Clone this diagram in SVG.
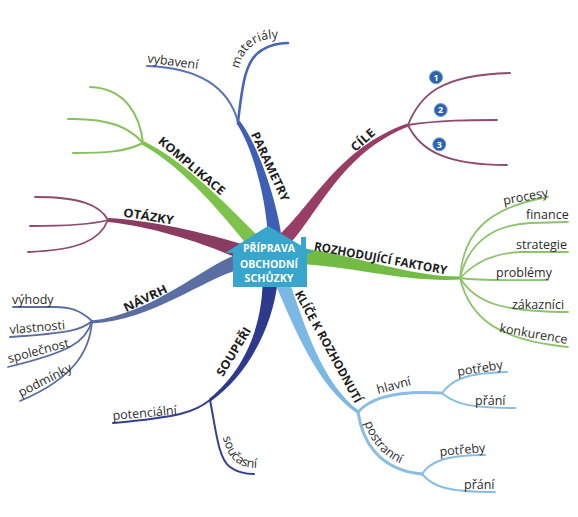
<svg xmlns="http://www.w3.org/2000/svg" width="578" height="517" viewBox="0 0 578 517">
<style>
.lbl{font-family:"Open Sans","Liberation Sans",sans-serif;font-size:12.5px;fill:#2b2b2b}
.hd{font-family:"Open Sans","Liberation Sans",sans-serif;font-size:12px;font-weight:700;fill:#1e1e1e;text-anchor:middle}
.ctr{font-family:"Open Sans","Liberation Sans",sans-serif;font-size:11px;font-weight:700;fill:#ffffff;text-anchor:middle}
.num{font-family:"Open Sans","Liberation Sans",sans-serif;font-size:9px;font-weight:700;fill:#ffffff;text-anchor:middle}
.br{fill:none;stroke-linecap:round}
.numc{fill:#2d62ac;stroke:#6f9bd6;stroke-width:1}
</style>
<defs>
  <path id="tp-materialy" d="M239,70 C241,56 249,45 261,41 C270,38 280,38 292,38"/>
  <path id="tp-postranni" d="M362,411 C366,437 382,464 422,469"/>
  <path id="tp-soucasni" d="M215,400 C221,429 224,453 235,461 C242,467 249,468 260,468"/>
</defs>
<rect width="578" height="517" fill="#ffffff"/>
<g id="connectors">
  <!-- PARAMETRY -->
  <path d="M282,239.5 C277,199.6 257.4,143.2 239.6,120.8 L236.4,123.2 C252.6,146.8 267,200.4 268,240.5 Z" fill="#3f5fb4"/>
  <path class="br" d="M238,122 C230,92 205,68 147,66" stroke="#5a74bb" stroke-width="2"/>
  <path class="br" d="M238,122 C242,90 244,60 262,50 C270,45 280,43 288,43" stroke="#4767b5" stroke-width="2.6"/>
  <!-- KOMPLIKACE -->
  <path d="M257.2,235.3 C228.7,206.7 186.4,162.3 143.9,141.2 L142.1,144.8 C183.6,167.7 221.3,213.3 246.8,244.7 Z" fill="#7dc24b"/>
  <path class="br" d="M143,143 C140,115 125,88 90,87" stroke="#86c25a" stroke-width="2"/>
  <path class="br" d="M143,143 C130,128 110,118 68,119" stroke="#86c25a" stroke-width="2"/>
  <path class="br" d="M143,143 C125,152 105,153 73,153" stroke="#86c25a" stroke-width="2"/>
  <!-- OTÁZKY -->
  <path d="M244.7,245 C206.8,233.3 150.2,220 108.1,218 L107.9,222 C149.8,226 203.2,242.7 239.3,259 Z" fill="#8a3b60"/>
  <path class="br" d="M108,220 C100,205 80,197 35,197" stroke="#8d4a6e" stroke-width="1.8"/>
  <path class="br" d="M108,220 C90,225 60,226 30,226" stroke="#8d4a6e" stroke-width="1.8"/>
  <path class="br" d="M108,220 C100,240 80,250 28,252" stroke="#8d4a6e" stroke-width="1.8"/>
  <!-- CÍLE -->
  <path d="M286.9,247 C318.5,213.6 341,152.8 408.5,126.4 L407.5,123.6 C339,147.2 311.5,206.4 277.1,237 Z" fill="#973d66"/>
  <path class="br" d="M408,125 C420,95 440,75 510,73" stroke="#8e4b70" stroke-width="1.8"/>
  <path class="br" d="M408,125 C440,120 470,120 497,120" stroke="#8e4b70" stroke-width="1.8"/>
  <path class="br" d="M408,125 C420,150 445,165 507,165" stroke="#8e4b70" stroke-width="1.8"/>
  <!-- ROZHODUJÍCÍ FAKTORY -->
  <path d="M299.4,264 C349.5,266 410.1,283 460.1,279.5 L459.9,276.5 C409.9,277 350.5,254 300.6,248 Z" fill="#72bb45"/>
  <path class="br" d="M460,278 C463,235 485,208 548,197" stroke="#8cc46c" stroke-width="1.8"/>
  <path class="br" d="M460,278 C468,245 490,225 530,223 L568,222" stroke="#8cc46c" stroke-width="1.8"/>
  <path class="br" d="M460,278 C475,262 495,253 520,252 L568,252" stroke="#8cc46c" stroke-width="1.8"/>
  <path class="br" d="M460,278 C480,281 500,280 548,280" stroke="#8cc46c" stroke-width="1.8"/>
  <path class="br" d="M460,278 C475,302 500,312 568,312" stroke="#8cc46c" stroke-width="1.8"/>
  <path class="br" d="M460,278 C470,320 500,340 568,347" stroke="#8cc46c" stroke-width="1.8"/>
  <!-- NÁVRH -->
  <path d="M235.8,254.8 C203.4,266.7 149.8,315 91.9,320.5 L92.1,323.5 C150.2,321 206.6,277.3 240.2,269.2 Z" fill="#5b6ea2"/>
  <path class="br" d="M92,321 C80,310 70,307 55,307 L13,307" stroke="#5a6da0" stroke-width="1.8"/>
  <path class="br" d="M92,321 C82,330 70,333 10,337" stroke="#5a6da0" stroke-width="1.8"/>
  <path class="br" d="M92,321 C86,342 70,352 8,367" stroke="#5a6da0" stroke-width="1.8"/>
  <path class="br" d="M92,321 C90,350 75,378 20,401" stroke="#5a6da0" stroke-width="1.8"/>
  <!-- SOUPEŘI -->
  <path d="M262.5,281.6 C262.5,319.7 248.2,367.6 209.1,398.8 L210.9,401.2 C251.8,372.4 273.5,320.3 277.5,282.4 Z" fill="#2e3a8e"/>
  <path class="br" d="M210,400 C195,412 180,417 113,423" stroke="#333f90" stroke-width="2"/>
  <path class="br" d="M210,400 C216,430 218,458 230,467 C238,473 246,474 254,474" stroke="#333f90" stroke-width="2"/>
  <!-- KLÍČE K ROZHODNUTÍ -->
  <path d="M275.2,283.8 C294.7,329.4 318.3,387.4 357.1,413.2 L358.9,410.8 C321.7,382.6 305.3,326.6 288.8,280.2 Z" fill="#7bb8e4"/>
  <path class="br" d="M358,412 C370,398 395,390 442,393" stroke="#8abde3" stroke-width="3"/>
  <path class="br" d="M442,393 C452,380 465,373 507,372" stroke="#8abde3" stroke-width="2"/>
  <path class="br" d="M442,393 C452,402 465,408 515,408" stroke="#8abde3" stroke-width="2"/>
  <path class="br" d="M358,412 C362,440 378,470 422,474" stroke="#8abde3" stroke-width="3"/>
  <path class="br" d="M422,474 C430,462 445,455 485,455" stroke="#8abde3" stroke-width="2"/>
  <path class="br" d="M422,474 C432,486 445,492 495,492" stroke="#8abde3" stroke-width="2"/>
</g>

<g id="node-center">
  <path d="M268,226 L301,245.4 L301,237 L306,237 L306,248.3 L314,253 L307,253 L307,287 L233,287 L233,253 L225,253 Z" fill="#38a5cc"/>
  <text class="ctr" x="269" y="252" textLength="52" lengthAdjust="spacingAndGlyphs">PŘÍPRAVA</text>
  <text class="ctr" x="269" y="268" textLength="58" lengthAdjust="spacingAndGlyphs">OBCHODNÍ</text>
  <text class="ctr" x="269" y="281.5" textLength="49" lengthAdjust="spacingAndGlyphs">SCHŮZKY</text>
</g>

<g id="node-parametry"><text class="hd" transform="translate(266.4,168.2) rotate(65.3)" textLength="75" lengthAdjust="spacingAndGlyphs">PARAMETRY</text></g>
<g id="node-vybaveni"><text class="lbl" transform="translate(147,62.5) rotate(7.3)">vybavení</text></g>
<g id="node-materialy"><text class="lbl"><textPath href="#tp-materialy" startOffset="1">materiály</textPath></text></g>

<g id="node-komplikace"><text class="hd" transform="translate(188.9,169) rotate(40.1)" textLength="83" lengthAdjust="spacingAndGlyphs">KOMPLIKACE</text></g>

<g id="node-otazky"><text class="hd" transform="translate(147.9,220.5) rotate(9.2)" textLength="51" lengthAdjust="spacingAndGlyphs">OTÁZKY</text></g>

<g id="node-cile">
  <text class="hd" transform="translate(365.7,143) rotate(-42)" textLength="28" lengthAdjust="spacingAndGlyphs">CÍLE</text>
  <circle class="numc" cx="436" cy="77.3" r="6.5"/><text class="num" x="436" y="80.5">1</text>
  <circle class="numc" cx="440.7" cy="110" r="6.5"/><text class="num" x="440.7" y="113.2">2</text>
  <circle class="numc" cx="439.3" cy="144.3" r="6.5"/><text class="num" x="439.3" y="147.5">3</text>
</g>

<g id="node-faktory"><text class="hd" transform="translate(379.8,262.4) rotate(10.4)" textLength="135" lengthAdjust="spacingAndGlyphs">ROZHODUJÍCÍ FAKTORY</text></g>
<g id="node-procesy"><text class="lbl" transform="translate(504,205) rotate(-10.8)">procesy</text></g>
<g id="node-finance"><text class="lbl" x="526" y="219">finance</text></g>
<g id="node-strategie"><text class="lbl" x="516" y="249">strategie</text></g>
<g id="node-problemy"><text class="lbl" x="496" y="277">problémy</text></g>
<g id="node-zakaznici"><text class="lbl" x="512" y="308.5">zákazníci</text></g>
<g id="node-konkurence"><text class="lbl" transform="translate(499,332) rotate(10)">konkurence</text></g>

<g id="node-navrh"><text class="hd" transform="translate(147.2,302.1) rotate(-25.9)" textLength="47" lengthAdjust="spacingAndGlyphs">NÁVRH</text></g>
<g id="node-vyhody"><text class="lbl" x="12" y="304">výhody</text></g>
<g id="node-vlastnosti"><text class="lbl" transform="translate(10,334) rotate(-5)">vlastnosti</text></g>
<g id="node-spolecnost"><text class="lbl" transform="translate(9,363) rotate(-15)">společnost</text></g>
<g id="node-podminky"><text class="lbl" transform="translate(21,397) rotate(-27)">podmínky</text></g>

<g id="node-souperi"><text class="hd" transform="translate(237.2,353.8) rotate(-58.7)" textLength="55" lengthAdjust="spacingAndGlyphs">SOUPEŘI</text></g>
<g id="node-potencialni"><text class="lbl" transform="translate(113,420) rotate(-5)">potenciální</text></g>
<g id="node-soucasni"><text class="lbl"><textPath href="#tp-soucasni" startOffset="38">současní</textPath></text></g>

<g id="node-klice"><text class="hd" transform="translate(324.8,348.6) rotate(61.2)" textLength="126" lengthAdjust="spacingAndGlyphs">KLÍČE K ROZHODNUTÍ</text></g>
<g id="node-hlavni"><text class="lbl" transform="translate(378,394) rotate(-15)">hlavní</text></g>
<g id="node-hlavni-potreby"><text class="lbl" transform="translate(458,376) rotate(-9)">potřeby</text></g>
<g id="node-hlavni-prani"><text class="lbl" x="475" y="405">přání</text></g>
<g id="node-postranni"><text class="lbl"><textPath href="#tp-postranni" startOffset="12">postranní</textPath></text></g>
<g id="node-postranni-potreby"><text class="lbl" transform="translate(440,456) rotate(-5)">potřeby</text></g>
<g id="node-postranni-prani"><text class="lbl" x="464" y="489">přání</text></g>
</svg>
